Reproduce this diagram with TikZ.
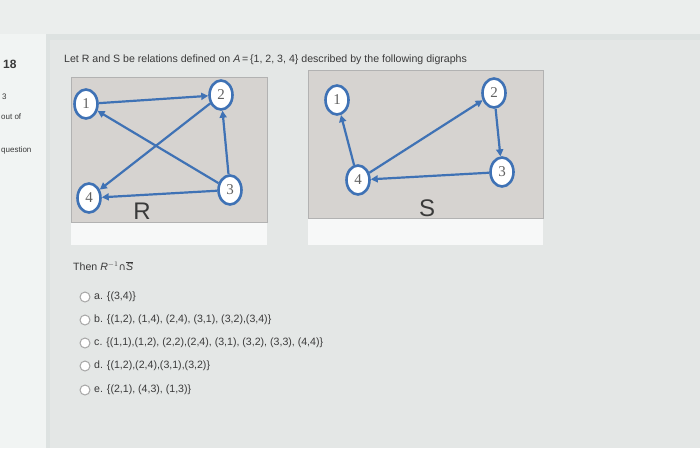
\documentclass[tikz,border=0pt]{standalone}
\usepackage{fontspec}
\setmainfont{Liberation Sans}
\newfontfamily\numfont{Liberation Serif}
\newfontfamily\symfont{DejaVu Sans}
\usetikzlibrary{shapes.geometric,arrows.meta}
\definecolor{bgc}{HTML}{DDE2E1}
\definecolor{panel}{HTML}{E4E7E6}
\definecolor{boxc}{HTML}{D6D3D0}
\definecolor{edge}{HTML}{3F72B5}
\definecolor{txt}{HTML}{3A3A3A}
\tikzset{
 vert/.style={ellipse,draw=edge,line width=2.6pt,fill=white,minimum width=23pt,minimum height=29pt,inner sep=0pt,font=\numfont\fontsize{15}{15}\selectfont,text=txt!80},
 arc/.style={edge,line width=2.2pt,-{Triangle[length=7pt,width=7pt]}},
 lbl/.style={font=\fontsize{10.6}{12}\selectfont,text=txt,anchor=west,inner sep=0pt},
 opt/.style={circle,draw=gray!70,line width=1pt,fill=white,minimum size=10pt,inner sep=0pt},
 gbox/.style={fill=boxc,draw=gray!60,line width=0.6pt},
}
\begin{document}
\begin{tikzpicture}[x=1pt,y=-1pt]
\useasboundingbox (0,0) rectangle (700,448);
\fill[bgc] (0,0) rectangle (700,448);
\fill[white!40!bgc] (0,0) rectangle (700,34);
\fill[white!60!bgc] (0,34) rectangle (46,448);
\fill[panel] (50,40) rectangle (700,448);
% left column
\node[lbl,font=\bfseries\fontsize{12}{12}\selectfont] (num) at (3,64) {18};
\node[lbl,font=\fontsize{8}{8}\selectfont] (three) at (2,97) {3};
\node[lbl,font=\fontsize{8}{8}\selectfont] (outof) at (1,117) {out of};
\node[lbl,font=\fontsize{8}{8}\selectfont] (quest) at (1,150) {question};
% title
\node[lbl] (title) at (64,60) {Let R and S be relations defined on \textit{A}\,=\,\{1, 2, 3, 4\} described by the following digraphs};
% boxes
\fill[white!70!panel] (71,222) rectangle (267,245);
\fill[white!70!panel] (308,218) rectangle (543,245);
\draw[gbox] (71,77) rectangle (267,222);
\draw[gbox] (308,70) rectangle (543,218);
% R
\node[vert] (r1) at (86,104) {1};
\node[vert] (r2) at (221,95) {2};
\node[vert] (r3) at (230,190) {3};
\node[vert] (r4) at (89,198) {4};
\draw[arc] (r1) -- (r2);
\draw[arc] (r3) -- (r1);
\draw[arc] (r3) -- (r2);
\draw[arc] (r3) -- (r4);
\draw[arc] (r2) -- (r4);
\node[font=\fontsize{24}{24}\selectfont,text=txt] (rl) at (142,211) {R};
% S
\node[vert] (s1) at (337,100) {1};
\node[vert] (s2) at (494,93) {2};
\node[vert] (s3) at (502,172) {3};
\node[vert] (s4) at (358,180) {4};
\draw[arc] (s4) -- (s1);
\draw[arc] (s4) -- (s2);
\draw[arc] (s2) -- (s3);
\draw[arc] (s3) -- (s4);
\node[font=\fontsize{24}{24}\selectfont,text=txt] (sl) at (427,208) {S};
% question
\node[lbl] (then) at (73,266) {Then \textit{R}$^{-1}${\symfont\fontsize{10}{10}\selectfont ∩}$\overline{\mbox{\textit{S}}}$};
\node[opt] (oa) at (85,297) {};
\node[lbl] (ta) at (94,297) {a. \{(3,4)\}};
\node[opt] (ob) at (85,320) {};
\node[lbl] (tb) at (94,320) {b. \{(1,2), (1,4), (2,4), (3,1), (3,2),(3,4)\}};
\node[opt] (oc) at (85,343) {};
\node[lbl] (tc) at (94,343) {c. \{(1,1),(1,2), (2,2),(2,4), (3,1), (3,2), (3,3), (4,4)\}};
\node[opt] (od) at (85,366) {};
\node[lbl] (td) at (94,366) {d. \{(1,2),(2,4),(3,1),(3,2)\}};
\node[opt] (oe) at (85,390) {};
\node[lbl] (te) at (94,390) {e. \{(2,1), (4,3), (1,3)\}};
\end{tikzpicture}
\end{document}
